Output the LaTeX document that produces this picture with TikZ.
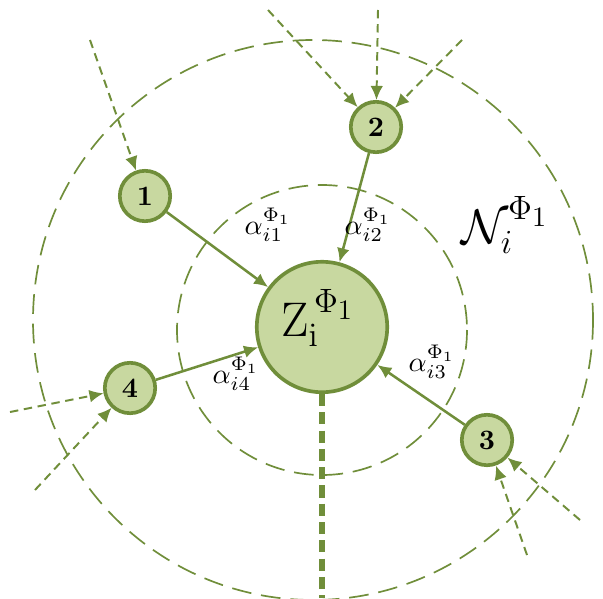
\documentclass[tikz,border=0pt]{standalone}
\usetikzlibrary{arrows.meta}
\definecolor{dg}{RGB}{112,142,58}
\definecolor{lg}{RGB}{200,216,160}
\begin{document}
\begin{tikzpicture}[x=0.0125cm,y=-0.0125cm,
  nd/.style={circle,draw=dg,line width=1.3pt,fill=lg,minimum size=0.63cm,inner sep=0pt,font=\bfseries},
  ar/.style={dg,line width=0.9pt,-{Latex[length=5pt,width=4.5pt]}},
  da/.style={dg,line width=0.7pt,dash pattern=on 3pt off 2pt,-{Latex[length=5pt,width=4.5pt]}},
  ring/.style={dg,line width=0.6pt,dash pattern=on 7pt off 3.5pt}]
\useasboundingbox (0,0) rectangle (603,598);
\draw[ring] (322,330) circle (145);
\draw[ring] (313,320) circle (280);
\node[circle,draw=dg,line width=1.3pt,fill=lg,minimum size=1.63cm,inner sep=0pt] (z) at (322,327) {};
\node at (318,318) {\LARGE $\mathrm{Z}_{\mathrm{i}}^{\,\Phi_1}$};
\node[nd] (n1) at (145,196) {1};
\node[nd] (n2) at (376,127) {2};
\node[nd] (n3) at (487,440) {3};
\node[nd] (n4) at (130,388) {4};
\draw[ar] (n1) -- (z);
\draw[ar] (n2) -- (z);
\draw[ar] (n3) -- (z);
\draw[ar] (n4) -- (z);
\coordinate (a1) at (90,40);
\coordinate (b1) at (268,10);
\coordinate (b2) at (378,10);
\coordinate (b3) at (462,40);
\coordinate (c1) at (10,412);
\coordinate (c2) at (35,490);
\coordinate (d1) at (527,555);
\coordinate (d2) at (580,520);
\coordinate (e) at (322,598);
\draw[da] (a1) -- (n1);
\draw[da] (b1) -- (n2);
\draw[da] (b2) -- (n2);
\draw[da] (b3) -- (n2);
\draw[da] (c1) -- (n4);
\draw[da] (c2) -- (n4);
\draw[da] (d1) -- (n3);
\draw[da] (d2) -- (n3);
\draw[dg,line width=2.1pt,dash pattern=on 4.3pt off 2.2pt] (z) -- (e);
\node at (268,225) {$\alpha_{i1}^{\Phi_1}$};
\node at (368,225) {$\alpha_{i2}^{\Phi_1}$};
\node at (432,362) {$\alpha_{i3}^{\Phi_1}$};
\node at (236,374) {$\alpha_{i4}^{\Phi_1}$};
\node at (505,225) {\LARGE $\mathcal{N}_i^{\Phi_1}$};
\end{tikzpicture}
\end{document}
